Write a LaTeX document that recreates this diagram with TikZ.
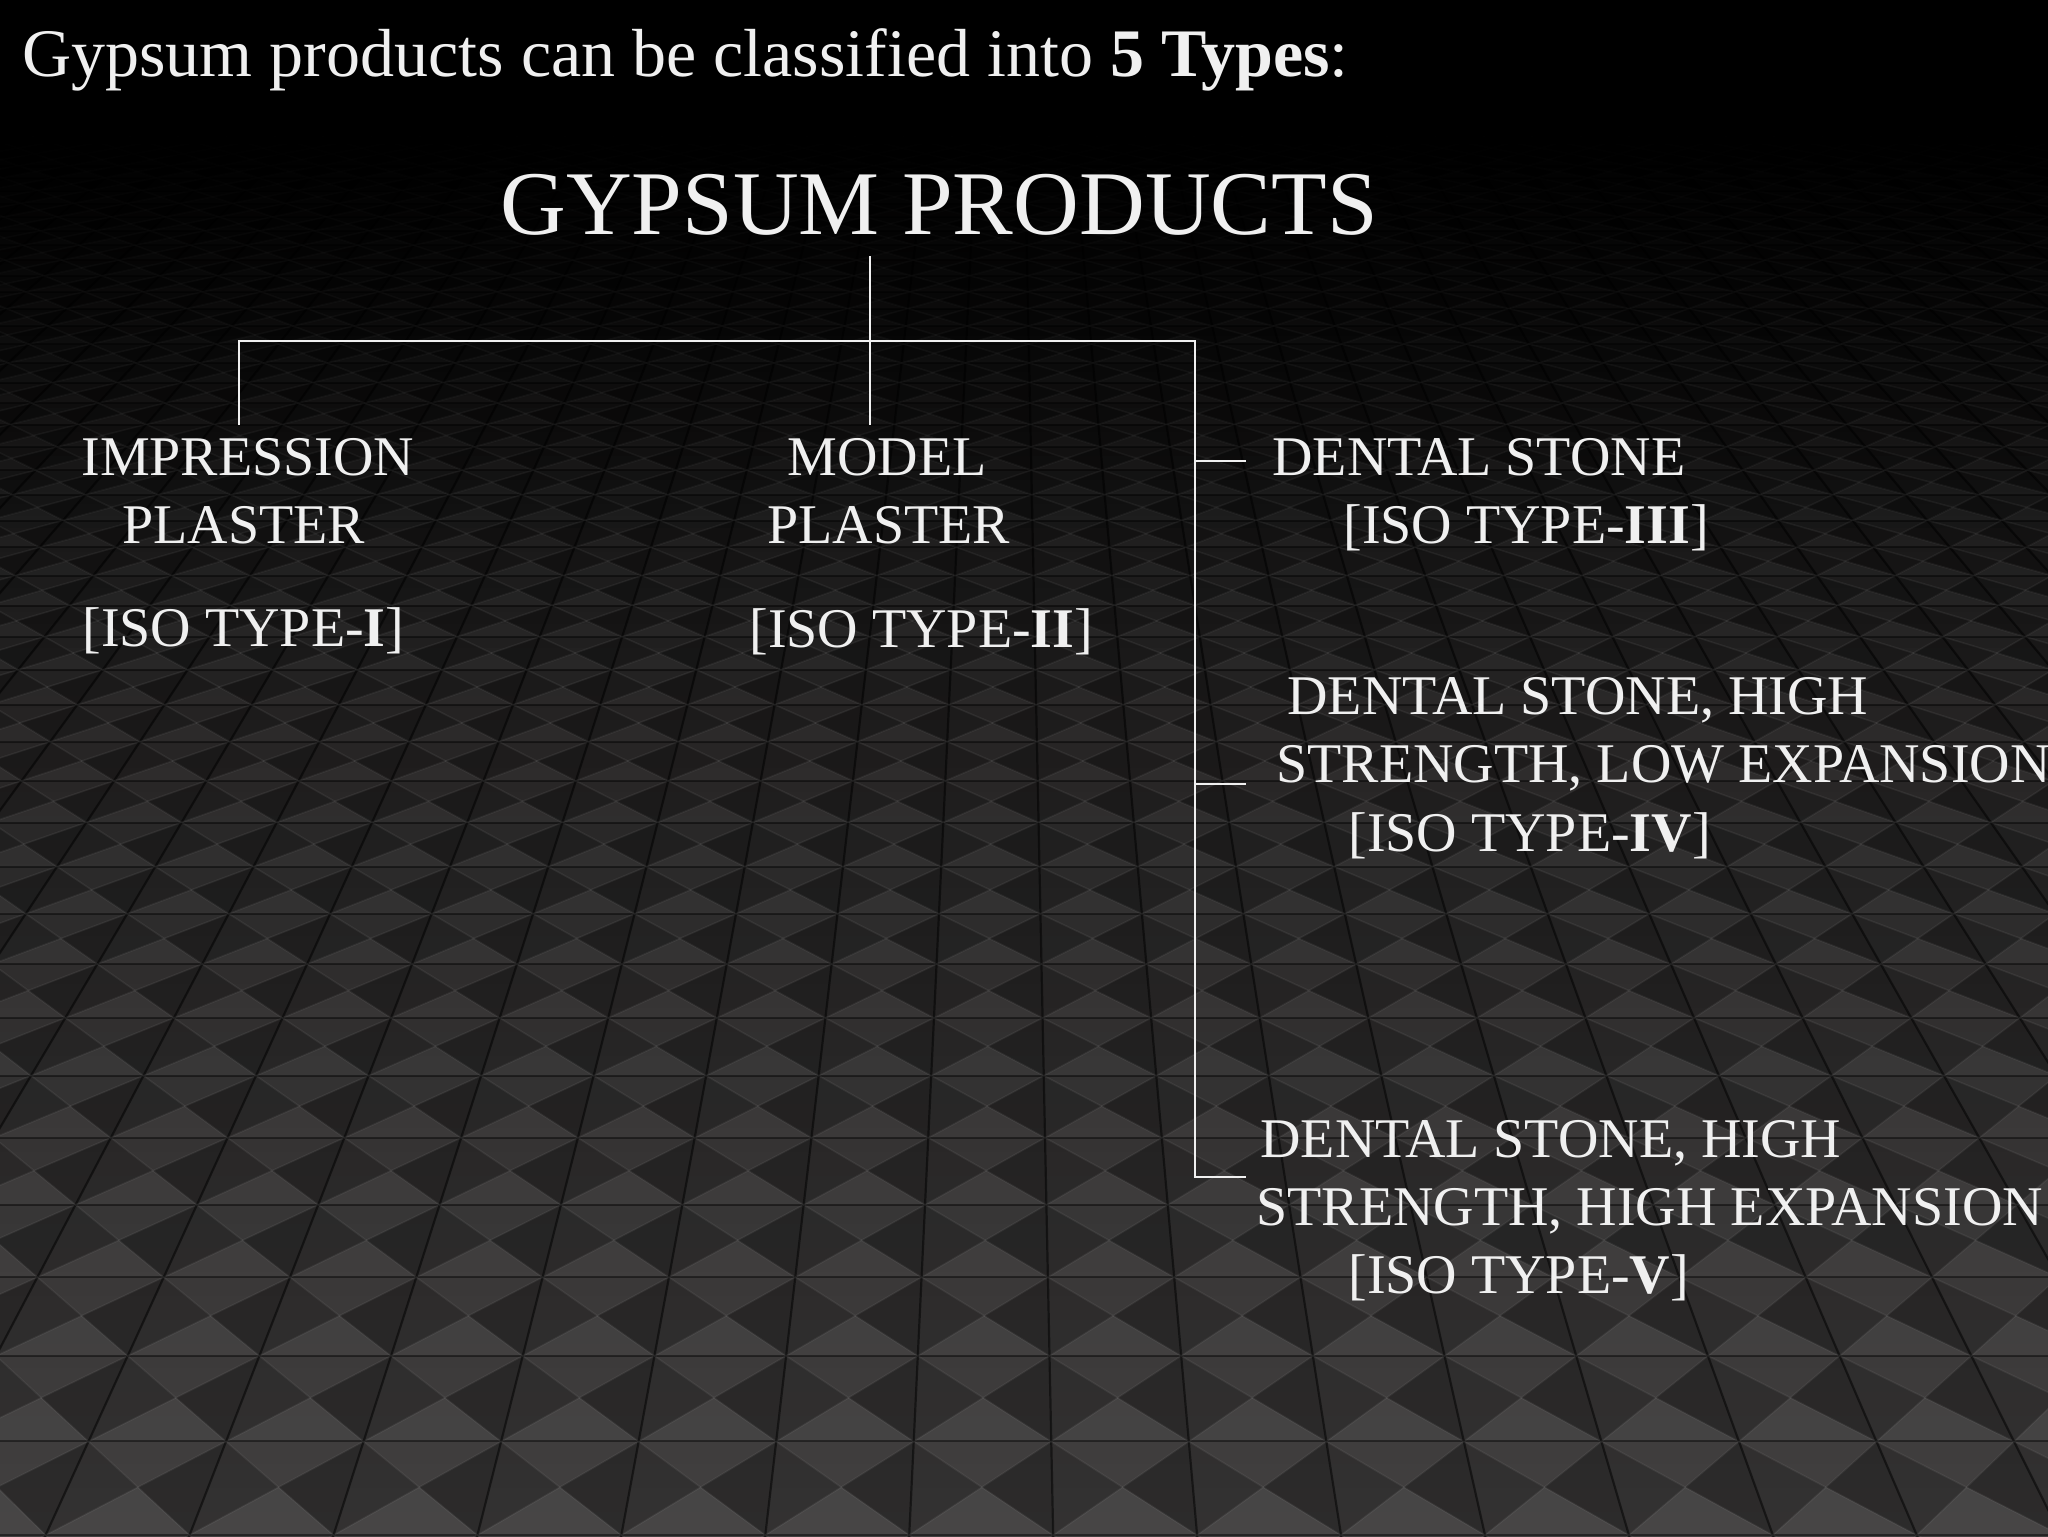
\documentclass[tikz,border=0pt]{standalone}
\usepackage{fontspec}
\setmainfont{Liberation Serif}
\definecolor{ink}{RGB}{240,240,240}
\definecolor{bgbot}{RGB}{66,64,64}
\begin{document}
\begin{tikzpicture}[x=0.5pt,y=-0.5pt,
  conn/.style={draw=ink,line width=1pt},
  lbl/.style={text=ink,anchor=base west,inner sep=0pt,font=\fontsize{28}{34}\selectfont},
  groove/.style={draw=black,draw opacity=0.5,line width=1.1pt},
  ridgea/.style={draw=white,draw opacity=0.06,line width=0.8pt},
  ridgeb/.style={draw=white,draw opacity=0.06,line width=0.8pt},
  rowline/.style={draw=black,draw opacity=0.45,line width=1pt},
  faceL/.style={fill=black,fill opacity=0.22},
  faceR/.style={fill=black,fill opacity=0.32},
  faceB/.style={fill=white,fill opacity=0.03}]
\useasboundingbox (0,0) rectangle (2048,1536);
% ---------- background ----------
\begin{scope}
\clip (0,0) rectangle (2048,1536);
\foreach \i in {0,...,63}{
  \pgfmathsetmacro\p{100*max(0.001,min(1,(\i*24+12-80)/1456))^0.7}
  \colorlet{bandc}{bgbot!\p!black}
  \fill[bandc] (0,\i*24) rectangle (2048,\i*24+25);
}
% perspective pyramid tiles: faces
\foreach \n in {-1,...,40}{
  \pgfmathsetmacro\ua{452.58/(21.5+\n)*100}
  \pgfmathsetmacro\ub{452.58/(22.5+\n)*100}
  \pgfmathsetmacro\uc{452.58/(22+\n)*100}
  \pgfmathsetmacro\sa{0.068376*\ua}
  \pgfmathsetmacro\sb{0.068376*\ub}
  \pgfmathsetmacro\sc{0.068376*\uc}
  \pgfmathsetmacro\ya{-570+\ua}
  \pgfmathsetmacro\yb{-570+\ub}
  \pgfmathsetmacro\yc{-570+\uc}
  \pgfmathtruncatemacro\kmin{-1010/\sb-2}
  \pgfmathtruncatemacro\kmax{1040/\sb+1}
  \foreach \k in {\kmin,...,\kmax}{
    \pgfmathsetmacro\xal{1010+(\k+0.3)*\sa}
    \pgfmathsetmacro\xar{1010+(\k+1.3)*\sa}
    \pgfmathsetmacro\xbl{1010+(\k+0.3)*\sb}
    \pgfmathsetmacro\xbr{1010+(\k+1.3)*\sb}
    \pgfmathsetmacro\xc{1010+(\k+0.8)*\sc}
    \fill[faceL] (\xal,\ya) -- (\xbl,\yb) -- (\xc,\yc) -- cycle;
    \fill[faceR] (\xar,\ya) -- (\xbr,\yb) -- (\xc,\yc) -- cycle;
    \fill[faceB] (\xal,\ya) -- (\xar,\ya) -- (\xc,\yc) -- cycle;
  }
}
% grooves
\foreach \k in {-27,...,28}{
  \pgfmathsetmacro\xa{1010+(\k+0.3)*158.7}
  \pgfmathsetmacro\xb{1010+(\k+0.3)*37.97}
  \draw[groove] (\xa,1751) -- (\xb,-15);
}
\foreach \n in {0,...,60}{
  \pgfmathsetmacro\yy{-570+452.58/(21.5+\n)*100}
  \draw[rowline] (0,\yy) -- (2048,\yy);
}
% ridges
\foreach \m in {-90,...,10}{
  \pgfmathsetmacro\xa{1010+(\m+0.3)*158.7}
  \pgfmathsetmacro\xb{1010+(\m+62.3)*37.97}
  \draw[ridgea] (\xa,1751) -- (\xb,-15);
}
\foreach \m in {-10,...,90}{
  \pgfmathsetmacro\xa{1010+(\m+0.3)*158.7}
  \pgfmathsetmacro\xb{1010+(\m-61.7)*37.97}
  \draw[ridgeb] (\xa,1751) -- (\xb,-15);
}
% fade to black at the top
\fill[black] (0,0) rectangle (2048,121);
\foreach \i in {0,...,48}{
  \pgfmathsetmacro\op{(1-\i/49)^1.6}
  \fill[black,fill opacity=\op] (0,120+\i*12) rectangle (2048,132+\i*12);
}
\end{scope}
% ---------- texts ----------
\node[lbl,font=\fontsize{34}{40}\selectfont] (intro) at (22,76)
  {Gypsum products can be classified into \textbf{5 Types}:};
\node[lbl,font=\fontsize{45.5}{50}\selectfont] (root) at (500,234) {GYPSUM PRODUCTS};

\node[lbl] (imp)  at (81,475)  {IMPRESSION};
\node[lbl] (imp2) at (122,543) {PLASTER};
\node[lbl] (imp3) at (82,646)  {[ISO TYPE-\textbf{I}]};

\node[lbl] (mod)  at (787,475) {MODEL};
\node[lbl] (mod2) at (767,543) {PLASTER};
\node[lbl] (mod3) at (749,647) {[ISO TYPE-\textbf{II}]};

\node[lbl] (ds)   at (1272,475) {DENTAL STONE};
\node[lbl] (ds2)  at (1343,543) {[ISO TYPE-\textbf{III}]};

\node[lbl] (hl)   at (1287,714) {DENTAL STONE, HIGH};
\node[lbl] (hl2)  at (1276,782) {STRENGTH, LOW EXPANSION};
\node[lbl] (hl3)  at (1348,851) {[ISO TYPE-\textbf{IV}]};

\node[lbl] (hh)   at (1260,1157) {DENTAL STONE, HIGH};
\node[lbl] (hh2)  at (1256,1225) {STRENGTH, HIGH EXPANSION};
\node[lbl] (hh3)  at (1348,1293) {[ISO TYPE-\textbf{V}]};
% ---------- connectors ----------
\coordinate (rootb)  at (870,256);
\coordinate (jleft)  at (239,341);
\coordinate (jright) at (1195,341);
\coordinate (impt)   at (239,425);
\coordinate (modt)   at (870,425);
\coordinate (j3) at (1195,461);  \coordinate (e3) at (1246,461);
\coordinate (j4) at (1195,784);  \coordinate (e4) at (1246,784);
\coordinate (j5) at (1195,1177); \coordinate (e5) at (1246,1177);
\draw[conn] (rootb) -- (modt);
\draw[conn] (impt) -- (jleft) -- (jright) -- (j5) -- (e5);
\draw[conn] (j3) -- (e3);
\draw[conn] (j4) -- (e4);
\end{tikzpicture}
\end{document}
